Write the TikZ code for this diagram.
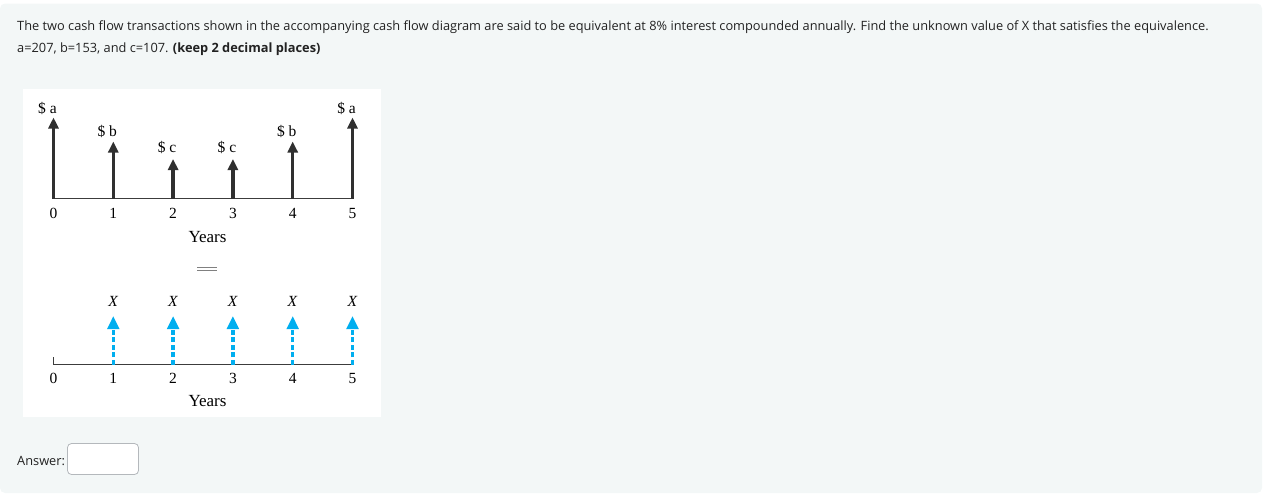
\documentclass[tikz,border=0pt]{standalone}
\usepackage{fontspec}
\setmainfont{Liberation Serif}
\newfontfamily\uifont{Open Sans}
\usepackage{tikz}
\usetikzlibrary{arrows.meta,calc,positioning}
\definecolor{panelGris}{RGB}{243,247,247}
\definecolor{tinta}{RGB}{34,34,34}
\definecolor{ejeGris}{RGB}{60,60,60}
\definecolor{celeste}{RGB}{0,174,239}
\definecolor{bordeGris}{RGB}{180,184,188}
\tikzstyle{flecha}=[line width=3.3pt, ejeGris!80!black,
                    -{Triangle[length=11pt,width=10pt]}]
\tikzstyle{xflecha}=[line width=3.3pt, celeste, dash pattern=on 5pt off 2.5pt,
                    -{Triangle[length=13pt,width=11.5pt]}]
\tikzstyle{eje}=[line width=1.3pt, ejeGris]
\tikzstyle{etiq}=[inner sep=0pt, font=\fontsize{15.5}{15.5}\selectfont]
\tikzstyle{anio}=[inner sep=0pt, font=\fontsize{17}{17}\selectfont]
\tikzstyle{pregunta}=[inner sep=0pt, anchor=base west, tinta,
                    font=\uifont\fontsize{12.8}{14}\selectfont]

\begin{document}
\begin{tikzpicture}[x=1pt,y=-1pt]

    \useasboundingbox (0,0) rectangle (1266,496);
    \fill[panelGris, rounded corners=5pt] (0,3.5) rectangle (1262,493);

    % question
    \node (q1) [pregunta] at (17,30) {The two cash flow transactions shown in the accompanying cash flow diagram are said to be equivalent at 8\% interest compounded annually. Find the unknown value of X that satisfies the equivalence.};
    \node (q2) [pregunta] at (17,52) {a=207, b=153, and c=107. \textbf{(keep 2 decimal places)}};

    \fill[white] (23,89) rectangle (381,417);

    % upper diagram
    \foreach \i in {0,...,5}
        \coordinate (p\i) at ({53.5+59.8*\i},198.5);
    \foreach \i/\h in {0/117.5,1/141.5,2/159,3/159,4/141.5,5/117.5}
        \coordinate (h\i) at ({53.5+59.8*\i},\h);
    \draw [eje] (p0) -- (p5);
    \foreach \i in {0,...,5}
        \draw [flecha] (p\i) to (h\i);
    \foreach \i/\t/\h in {0/a/108,1/b/131.5,2/c/147,3/c/147,4/b/131.5,5/a/108}
        \node (m\i) [etiq] at ({47.5+59.8*\i},\h) {\$ \t};
    \foreach \i in {0,...,5}
        \node (n\i) [etiq] at ({53.5+59.8*\i},213) {\i};
    \node (years1) [anio] at (207.5,237.5) {Years};

    % equivalence sign
    \coordinate (eqA) at (197,267.5);
    \coordinate (eqB) at (216.5,267.5);
    \draw [line width=0.9pt, gray] (eqA) -- (eqB);
    \draw [line width=0.9pt, gray] ($(eqA)+(0,3)$) -- ($(eqB)+(0,3)$);

    % lower diagram
    \foreach \i in {0,...,5}
        \coordinate (q\i) at ({53.5+59.8*\i},364.5);
    \foreach \i in {1,...,5}
        \coordinate (x\i) at ({53.5+59.8*\i},316);
    \coordinate (tk) at (53.5,357);
    \draw [eje] (tk) -- (q0) -- (q5);
    \foreach \i in {1,...,5}
        \draw [xflecha] (q\i) to (x\i);
    \foreach \i in {1,...,5}
        \node (l\i) [etiq] at ({53.5+59.8*\i},301.5) {\textit{X}};
    \foreach \i in {0,...,5}
        \node (k\i) [etiq] at ({53.5+59.8*\i},378.5) {\i};
    \node (years2) [anio] at (207.5,401.5) {Years};

    % answer
    \node (ans) [pregunta] at (17,465) {Answer:};
    \node (ansbox) [draw=bordeGris, fill=white, rounded corners=4pt, line width=0.8pt,
        minimum width=71pt, minimum height=31pt, inner sep=0pt] at (103,459) {};

\end{tikzpicture}
\end{document}
